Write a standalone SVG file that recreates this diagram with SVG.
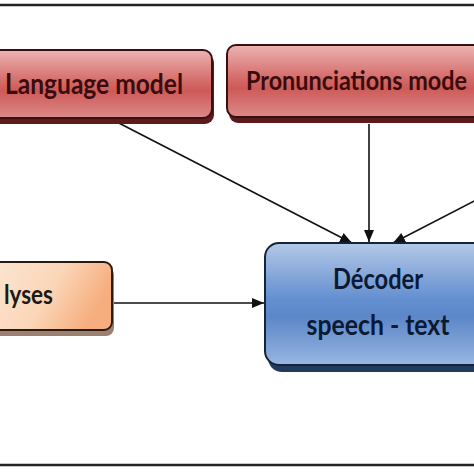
<svg xmlns="http://www.w3.org/2000/svg" width="474" height="474" viewBox="0 0 474 474">
<defs>
<linearGradient id="red" x1="0" y1="0" x2="0" y2="1">
<stop offset="0" stop-color="#ecb4b2"/>
<stop offset="0.45" stop-color="#d56d6b"/>
<stop offset="0.6" stop-color="#cd5a58"/>
<stop offset="1" stop-color="#dc8a88"/>
</linearGradient>
<linearGradient id="blue" x1="0" y1="0" x2="0" y2="1">
<stop offset="0" stop-color="#b4c9e7"/>
<stop offset="0.45" stop-color="#6590d0"/>
<stop offset="0.6" stop-color="#5b86c8"/>
<stop offset="1" stop-color="#98b6e0"/>
</linearGradient>
<linearGradient id="peach" x1="0" y1="0" x2="1" y2="0.3">
<stop offset="0" stop-color="#fce8d6"/>
<stop offset="0.6" stop-color="#fbd6b8"/>
<stop offset="1" stop-color="#f6ae7e"/>
</linearGradient>
<marker id="arrow" viewBox="0 0 12 12" refX="12" refY="6" markerWidth="12" markerHeight="12" orient="auto" markerUnits="userSpaceOnUse">
<path d="M0,1 L12,6 L0,11 Z" fill="#111"/>
</marker>
</defs>
<style>
.lbl{font-family:Lato,"Liberation Sans",sans-serif;font-weight:bold;}
.edge{stroke:#111;stroke-width:1.6;fill:none;marker-end:url(#arrow);}
.frame{stroke:#222;stroke-width:2.5;}
</style>
<rect width="474" height="474" fill="#ffffff"/>
<line class="frame" x1="0" y1="5" x2="474" y2="5"/>
<line class="frame" x1="0" y1="465" x2="474" y2="465"/>

<g id="connectors">
<line class="edge" x1="111" y1="119" x2="352" y2="243"/>
<line class="edge" x1="369" y1="124" x2="369" y2="242"/>
<line class="edge" x1="478" y1="199" x2="393" y2="243"/>
<line class="edge" x1="113" y1="303" x2="264" y2="303"/>
</g>

<g id="language-model">
<rect x="-20" y="54" width="234" height="70" rx="9" fill="#5c1a1b"/>
<rect x="-20" y="50" width="232" height="68" rx="9" fill="url(#red)" stroke="#3b0f10" stroke-width="2"/>
<text class="lbl" x="5" y="94" font-size="29" fill="#3a0c0d" textLength="178" lengthAdjust="spacingAndGlyphs">Language model</text>
</g>

<g id="pronunciations-model">
<rect x="229" y="50" width="270" height="73" rx="9" fill="#5c1a1b"/>
<rect x="227" y="45" width="270" height="72" rx="9" fill="url(#red)" stroke="#3b0f10" stroke-width="2"/>
<text class="lbl" x="246" y="90" font-size="27" fill="#3a0c0d" textLength="221" lengthAdjust="spacingAndGlyphs">Pronunciations mode</text>
</g>

<g id="analyses">
<rect x="-20" y="267" width="134" height="69" rx="8" fill="#9c8070"/>
<rect x="-20" y="262" width="132" height="68" rx="8" fill="url(#peach)" stroke="#2a1a10" stroke-width="2"/>
<text class="lbl" x="4" y="304" font-size="27" fill="#1a1a1a" textLength="49" lengthAdjust="spacingAndGlyphs">lyses</text>
</g>

<g id="decoder">
<rect x="268" y="249" width="230" height="123" rx="14" fill="#223a5c"/>
<rect x="265" y="243" width="230" height="122" rx="14" fill="url(#blue)" stroke="#14243c" stroke-width="2"/>
<text class="lbl" x="378" y="289" font-size="28" fill="#0b1a33" text-anchor="middle" textLength="90" lengthAdjust="spacingAndGlyphs">Décoder</text>
<text class="lbl" x="378" y="335" font-size="28" fill="#0b1a33" text-anchor="middle" textLength="143" lengthAdjust="spacingAndGlyphs">speech - text</text>
</g>
</svg>
